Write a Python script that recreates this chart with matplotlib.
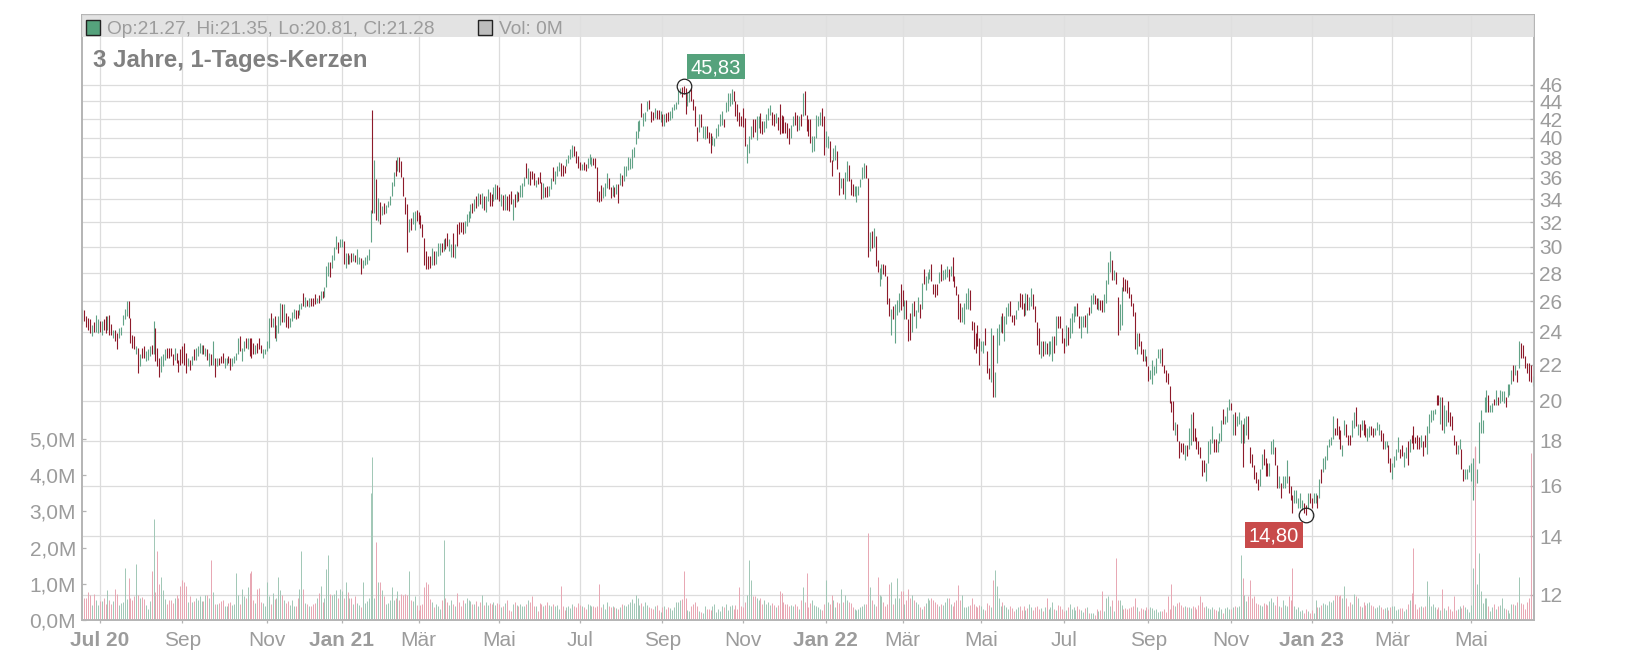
import matplotlib
matplotlib.use("Agg")
import matplotlib.pyplot as plt
from matplotlib.patches import Rectangle
from matplotlib.ticker import FixedLocator, NullLocator
import numpy as np

plt.rcParams["font.family"] = ["Liberation Sans", "DejaVu Sans"]

# daily highs
highs = [
    25.5,25.4,25.0,24.9,24.8,24.4,24.6,25.1,24.8,24.7,24.7,24.8,25.0,25.0,25.1,24.5,24.1,24.1,23.9,24.2,24.3,
    25.1,25.5,26.0,26.0,24.9,23.8,23.7,23.1,23.0,22.6,23.0,23.1,22.8,22.9,23.1,23.2,24.7,24.2,23.0,22.4,22.5,
    22.6,22.9,23.0,23.0,23.0,22.6,23.0,22.7,22.3,22.9,23.1,23.3,22.7,22.4,22.3,22.5,22.9,23.0,23.1,23.3,23.2,
    23.2,23.0,22.9,22.7,22.6,23.4,22.4,22.4,22.4,22.5,22.7,22.4,22.4,22.5,22.4,22.4,22.5,22.7,23.6,23.7,23.0,
    23.4,23.6,23.6,23.6,23.6,23.3,23.2,23.3,23.6,23.2,22.9,22.9,23.4,24.9,25.2,24.9,25.0,24.4,25.0,25.9,25.8,
    25.8,25.2,25.0,24.9,25.3,25.5,25.4,25.4,25.8,25.9,26.6,26.3,26.1,26.2,26.2,26.2,26.5,26.2,26.4,26.7,26.7,
    27.0,28.5,28.8,28.8,29.4,30.0,30.9,30.4,30.6,30.6,30.5,29.5,29.5,29.4,29.5,29.5,29.4,29.8,29.2,29.1,29.0,
    29.2,29.4,29.8,33.1,43.0,37.7,35.9,34.1,33.8,33.4,33.7,33.5,33.9,34.3,35.6,36.5,37.7,38.0,38.0,37.6,36.1,
    34.2,33.6,32.3,32.4,32.9,33.0,33.1,32.9,32.6,31.9,30.7,29.7,29.3,29.3,29.9,29.7,29.7,30.3,30.3,30.3,30.6,
    30.7,31.1,30.6,30.2,31.1,30.2,31.9,32.0,32.0,32.0,32.1,32.7,33.0,33.6,33.7,34.0,34.3,34.6,34.5,34.6,34.3,
    34.3,34.9,34.7,34.5,35.1,35.4,35.3,35.1,34.5,34.4,34.5,34.3,34.5,34.8,34.0,34.5,34.8,34.7,35.3,35.5,36.1,37.4,
    36.9,36.6,36.6,36.4,35.8,36.1,36.5,35.6,35.5,35.1,35.2,35.2,36.0,37.0,36.6,37.1,37.5,37.4,37.2,37.1,37.8,38.2,
    38.8,39.2,39.1,38.6,38.1,37.5,37.3,37.5,37.3,37.9,38.3,38.0,37.9,37.9,37.0,34.8,35.3,35.1,35.5,36.4,36.0,35.1,
    35.3,35.1,35.4,35.4,36.4,36.3,37.1,37.1,38.0,37.9,38.8,39.0,40.7,41.8,41.9,43.8,42.7,42.8,44.1,44.2,42.9,42.8,
    43.2,43.0,43.0,42.9,42.6,42.6,42.7,42.8,42.9,43.4,43.7,43.9,45.3,45.6,45.7,45.83,45.6,45.0,45.4,45.6,44.3,43.5,
    41.1,42.6,42.6,41.3,41.3,41.2,40.6,40.5,40.2,40.0,41.0,41.5,42.6,42.9,42.0,43.9,45.0,45.0,45.5,45.2,44.1,43.7,42.8,42.4,43.2,42.1,39.3,
    40.2,41.2,42.0,42.0,42.3,42.4,42.7,41.8,41.8,42.6,43.3,43.6,42.8,42.6,42.7,42.2,43.7,42.5,42.3,41.7,41.6,41.0,41.4,42.3,42.8,42.5,42.4,42.6,45.0,45.2,42.5,42.0,42.0,40.2,40.2,42.5,42.3,42.8,43.2,42.3,
    40.7,40.2,39.6,37.7,38.9,39.2,38.6,36.5,36.0,36.0,36.5,37.6,37.2,35.9,35.4,35.2,35.2,35.2,35.9,37.0,37.4,37.2,
    36.0,31.2,31.3,31.5,30.9,29.0,28.4,28.7,28.7,28.6,27.8,26.2,25.5,25.7,25.8,26.1,26.6,27.2,26.8,26.1,26.1,24.8,25.2,25.9,26.0,25.4,26.3,25.8,
    27.3,28.3,27.8,28.1,28.3,28.7,27.2,27.2,27.2,28.1,28.7,28.2,28.3,28.5,28.3,28.5,29.2,27.8,27.1,26.5,25.9,25.6,25.9,26.6,26.9,26.8,
    24.7,24.6,23.9,24.4,23.6,23.4,23.4,24.2,22.8,21.8,24.2,23.8,21.6,24.2,24.5,25.0,25.2,25.0,25.6,25.9,26.0,25.1,25.1,25.4,26.0,26.6,26.5,25.9,26.6,26.5,26.3,26.9,26.5,25.7,24.6,
    24.2,23.4,23.4,23.4,23.3,23.4,23.4,23.7,23.7,25.0,25.0,25.0,24.2,23.6,24.4,24.3,24.9,25.2,25.7,25.7,25.9,25.0,
    25.0,25.0,25.1,25.2,25.6,26.4,26.6,26.4,26.2,26.2,26.1,26.1,26.5,27.5,28.8,29.7,29.0,28.2,28.1,26.3,
    25.8,27.0,27.7,27.6,27.5,27.0,26.5,25.9,25.3,23.9,23.9,23.4,22.9,22.9,22.5,21.9,21.7,22.3,21.9,22.4,
    22.9,22.9,23.0,22.0,21.7,21.5,20.8,20.0,20.0,18.9,18.8,18.0,17.9,17.9,17.8,17.8,18.6,19.3,19.4,18.6,
    18.2,18.0,17.7,17.1,17.1,17.0,18.0,18.1,18.7,18.1,18.1,18.0,18.4,19.0,19.6,19.2,19.7,20.1,19.9,19.3,19.4,
    19.2,19.4,19.0,18.8,19.1,19.2,19.2,17.7,17.4,16.9,16.6,16.3,16.7,17.4,17.6,17.2,17.0,17.0,18.0,18.1,17.7,16.9,16.4,16.1,
    16.4,16.4,17.1,16.4,16.0,15.6,15.8,15.8,15.5,15.7,15.4,15.3,15.2,15.7,15.7,15.5,15.7,15.7,15.6,16.3,
    16.7,17.2,17.3,17.8,18.1,18.2,19.2,18.6,19.1,18.7,18.5,17.8,19.0,18.8,18.3,18.3,19.0,19.4,19.7,18.8,
    18.8,19.0,19.0,18.8,18.6,18.7,18.7,18.6,18.6,18.9,18.8,18.5,18.4,18.0,18.0,17.8,17.2,17.0,17.3,17.6,
    18.2,17.6,17.8,17.5,17.7,18.0,18.1,18.3,18.7,18.2,18.3,18.2,18.3,18.0,18.3,18.7,19.3,19.5,19.5,19.6,
    20.3,20.3,20.2,20.2,19.8,19.5,20.0,19.4,19.2,18.3,18.0,17.8,18.1,17.6,16.7,16.7,16.7,16.9,17.0,17.2,
    17.7,16.7,18.9,19.5,19.0,20.2,20.6,20.3,19.8,19.9,20.1,20.6,20.2,20.6,20.5,20.5,20.2,20.9,20.9,21.7,22.0,22.0,21.7,23.4,23.3,23.2,22.5,22.1,22.1,22.0,21.35,
]

# daily lows, same order
lows = [
    24.5,24.7,24.3,24.1,23.9,23.7,24.0,24.0,23.9,24.0,23.8,24.1,23.9,24.1,23.8,23.8,23.6,23.4,22.9,23.6,23.8,
    24.4,24.8,25.0,24.9,23.3,23.0,22.9,22.6,21.5,21.9,22.4,22.4,22.2,22.3,22.5,22.6,22.6,22.2,21.9,21.3,21.6,
    21.9,22.3,22.4,22.4,22.5,22.0,22.3,22.1,21.6,22.0,22.1,22.0,21.5,21.9,21.7,22.0,22.3,22.3,22.5,22.7,22.6,
    22.6,22.5,22.3,21.9,22.0,22.0,21.3,21.9,22.0,22.1,22.1,21.8,22.0,22.1,21.7,21.9,22.1,22.3,22.6,22.8,22.2,
    22.8,23.0,22.9,22.5,22.4,22.6,22.6,22.7,22.9,22.7,22.4,22.6,22.8,23.0,24.3,24.3,23.6,23.4,23.9,24.4,24.6,
    24.6,24.3,24.2,24.3,24.7,24.9,24.8,24.9,25.1,25.5,25.7,25.6,25.7,25.6,25.7,25.7,25.8,25.9,25.9,26.1,26.2,
    26.3,27.0,27.8,27.7,28.4,29.0,29.8,29.5,30.0,30.0,28.7,28.4,28.7,28.7,28.8,28.9,28.8,28.7,28.7,27.9,28.4,
    28.6,28.7,29.0,30.4,32.8,32.8,32.2,32.1,31.9,32.6,32.7,32.8,33.3,33.5,34.3,35.2,36.2,36.6,36.5,36.1,34.3,
    32.7,29.6,31.2,31.4,31.9,31.4,32.1,31.9,31.5,30.8,28.6,28.3,28.3,28.4,28.6,28.6,28.7,29.3,29.4,29.6,29.7,
    29.8,30.1,29.7,29.2,29.2,29.1,30.1,31.0,31.2,31.0,31.1,31.7,32.0,32.4,32.8,33.0,33.2,33.4,33.6,33.2,33.1,
    32.9,33.9,33.4,33.4,33.9,34.0,34.0,33.9,33.4,33.1,33.1,33.1,33.0,33.6,32.2,33.3,33.8,33.9,34.2,34.2,35.2,36.0,
    35.4,35.3,35.9,35.3,35.1,35.4,35.5,34.0,34.1,34.2,34.2,34.3,34.9,35.7,35.4,36.2,36.6,36.2,36.2,36.4,37.1,37.4,
    37.8,38.0,38.1,37.4,36.9,36.7,36.7,36.7,36.6,36.9,37.3,37.1,37.2,36.9,33.9,33.8,33.9,34.1,34.3,35.0,34.9,34.1,
    34.3,34.2,34.5,33.7,35.3,35.2,35.7,36.2,36.7,36.8,36.9,38.0,39.3,40.0,40.7,42.2,41.2,41.8,42.9,43.1,41.7,41.9,
    42.1,42.0,42.0,41.7,41.3,41.3,41.7,41.8,41.9,42.1,43.0,43.1,43.7,44.9,44.5,44.9,42.6,43.5,43.9,44.1,43.0,41.2,
    39.6,40.6,41.1,40.0,39.9,40.0,39.4,38.4,39.2,39.1,40.0,40.2,41.3,41.4,41.1,42.8,42.9,43.5,43.7,44.1,42.4,41.8,41.3,41.3,41.1,39.1,37.4,
    38.4,39.9,40.1,40.6,39.8,41.0,40.5,40.4,40.6,41.0,41.9,42.5,41.4,41.2,41.6,40.8,40.4,40.5,40.5,40.5,40.0,39.3,40.0,41.2,41.4,40.7,40.8,41.2,42.3,42.5,40.7,40.2,39.4,38.5,38.6,40.0,41.2,41.4,41.2,38.2,
    39.0,38.9,37.5,36.2,37.6,37.7,36.8,34.4,35.0,34.5,34.0,35.7,35.7,34.4,34.3,34.3,33.8,34.4,35.1,35.9,36.0,36.0,
    29.2,29.7,29.9,30.0,28.5,28.1,27.1,27.6,27.9,27.8,25.8,25.0,23.8,24.8,23.3,25.1,25.3,25.4,25.7,24.8,24.8,23.4,23.5,24.0,25.0,24.2,25.3,24.9,
    25.5,27.2,26.8,27.3,27.6,27.4,26.5,26.3,26.4,27.3,27.4,27.5,27.6,27.7,27.4,27.8,27.4,27.0,26.4,24.8,24.6,24.6,24.5,25.5,25.5,25.4,
    24.1,22.9,22.7,23.1,22.0,22.8,22.7,23.2,21.5,21.2,21.0,20.2,20.2,22.1,23.2,24.0,23.9,23.4,24.5,25.0,25.0,24.6,24.4,24.8,25.4,25.6,25.5,25.0,25.1,25.4,25.4,25.7,25.5,24.6,23.2,
    22.6,22.4,22.5,22.6,22.6,22.5,22.6,22.2,22.7,23.2,24.2,24.2,23.3,22.7,23.1,23.2,23.6,23.9,24.6,25.0,25.0,24.2,
    23.6,24.3,24.3,23.9,25.1,25.2,25.8,25.8,25.5,25.4,25.4,25.3,25.3,25.9,27.2,28.1,27.5,27.5,27.2,23.8,
    24.1,24.4,26.7,26.7,26.6,26.2,25.7,25.0,22.9,22.6,23.1,22.6,22.2,22.2,21.9,21.1,21.2,20.9,21.4,21.5,
    22.4,22.1,21.9,21.5,21.0,20.9,19.9,19.4,18.5,18.3,18.0,17.2,17.5,17.4,17.1,17.3,17.6,17.8,18.0,18.0,
    17.6,17.4,17.2,16.4,16.6,16.2,17.0,17.4,17.9,17.5,17.5,17.5,17.9,18.0,18.8,18.8,18.9,19.5,19.5,18.3,18.3,
    18.7,18.8,17.9,16.8,17.9,18.3,18.1,17.0,16.8,16.3,16.1,15.8,16.0,16.7,16.9,16.4,16.4,16.4,17.4,17.4,16.9,15.9,15.9,15.5,
    15.9,15.9,16.1,15.7,15.4,14.9,15.3,15.3,15.1,15.1,15.0,14.9,14.8,15.1,15.3,15.1,15.3,15.3,15.1,15.5,
    16.1,16.6,16.7,17.1,17.7,17.8,18.1,18.3,18.3,18.1,17.6,17.3,18.3,18.2,17.8,17.8,18.2,18.6,18.7,18.3,
    18.2,18.5,18.3,18.2,18.0,18.2,18.3,18.2,18.3,18.5,18.3,18.0,17.6,17.6,17.7,17.0,16.6,16.3,16.8,17.1,
    17.5,17.2,17.3,16.8,17.2,16.9,17.5,17.9,17.6,17.9,17.6,17.6,17.7,17.3,17.7,17.4,18.4,18.9,19.0,19.3,
    19.8,19.8,18.8,18.5,18.4,18.7,18.9,18.7,18.5,17.8,17.4,17.4,17.6,16.7,16.2,16.3,16.3,16.6,16.2,15.4,
    16.0,16.1,17.0,18.4,18.4,19.4,19.4,19.4,19.4,19.4,19.8,19.8,19.8,19.9,20.0,19.9,19.7,20.2,20.3,20.9,21.1,21.4,21.0,21.8,22.4,22.4,21.8,21.5,21.1,21.0,20.81,
]

# g = closed up, r = closed down
dirs = """
g r r r r g r g g r g r r g r r g r r g g
g g g r r r r g r g r r g g g r g r r r g
g g r r r r g r r r r r r g r g r g g g g
r g r g r g r g r r r g g r r g g g g r g
g r g r r r g r r r g g g g r g r g g g r
g r r g g g r r g g r g r g r r r g r g r
g g g r g g g r g g r g r g r g r g g r g
g g g g r g r g r g r g g g g g r g r r r
r r g r g g r r r r r r r r g r g g g r g
r r g g r g r r r r g g g g r g r g r g r
g g r r g g r r g r g r r r g r g r g g g r
g r r r g r r r g r r g g r g g g r r r g g
g g r r r r g r r g g g r r r r r g g g r r
g r g r g r g g g g g g g g g r g g g r r r
g r r g r g r r g g g g g g r r r g g r r r
r g r g g r r r g g g g g g r g g g g r r r r r r r g
g g r r g g r r g g g g r r g r r r r r r r g g r r g r g r r r r g g g g g r r
g g r r g g r r g r g g r r r g g g g g g r
r g r g r r g g r r r r g r g g g r r g r r r g r g g r
g r g g g r r r r g r g g g r g r r r r r g g g g r
r r r r r g g r r r g r g g g g r g g g r r r g g r r r g r g g r r r
r g r g r g g g r g r r r r g r g g g g r r
g g r g r g g r r g r r g g g g r g r r
g g r r r r r r r g r r r g r r g g g g
g g r r r r r r r g r r r r g r g g r r
r r r r r g g g g r r g g g r g g g r g r
g g g r g g r r r r r r g g r r r g g g r r g r
g g g r r r g g g g g r r g r r g g r g
r g g g g g g r r r r g g r r r g g r g
r g r r g g r r g g g r r g g r r g g g
g r r g g r g r r r r r g r r g g g g g
r r g r g g r r r r r g g r r g g g g g
r g g g g g g r g g r g r g g g r g g g r g r g r r r r r r g
""".split()

# daily volume in units of 10k shares
vols_10k = [
    90,60,62,78,68,42,72,55,42,52,52,62,45,82,55,45,52,85,72,42,48,
    50,145,58,115,62,55,66,155,70,62,64,58,42,30,52,135,280,78,190,100,118,
    82,58,45,55,55,48,60,70,60,95,110,105,95,50,65,50,52,60,55,66,52,
    52,70,70,60,165,78,45,45,48,52,55,40,38,48,50,42,45,130,70,45,85,
    65,62,92,130,135,55,48,85,88,50,48,40,105,65,45,75,58,60,120,82,68,
    55,48,52,42,56,40,38,60,85,190,85,48,45,40,38,45,48,60,75,95,50,
    62,140,180,72,68,72,82,60,85,80,60,105,78,60,62,45,65,48,42,35,105,
    48,52,62,350,450,60,215,105,105,82,65,45,48,55,90,55,60,80,55,72,70,
    72,70,135,55,52,65,42,28,42,45,90,105,100,58,50,35,45,40,30,55,220,
    60,50,42,55,45,40,75,50,38,55,48,60,55,52,45,45,52,40,50,70,42,
    50,42,48,45,50,42,48,45,35,40,48,55,28,25,45,50,42,40,45,38,38,
    45,55,50,65,40,38,25,48,45,40,42,50,42,38,45,40,42,30,95,38,28,
    35,40,32,45,40,35,48,42,40,35,30,45,42,40,38,35,40,100,35,45,30,
    50,38,35,40,35,32,30,35,45,42,40,45,50,58,48,70,60,42,48,40,50,
    42,35,32,30,38,42,28,22,35,40,30,35,32,28,35,50,50,55,58,135,60,
    28,25,38,45,50,40,25,22,20,40,30,30,28,38,45,22,30,25,40,35,45,
    28,40,42,30,42,30,90,40,35,50,70,165,110,65,65,62,55,60,45,55,45,
    50,42,48,42,35,42,80,75,50,45,45,40,42,38,45,40,30,55,90,50,130,
    35,48,55,42,38,35,30,28,45,110,50,45,70,55,35,50,48,85,50,70,55,
    50,48,35,30,28,30,35,40,45,45,240,90,55,45,40,120,70,65,50,40,45,
    100,105,45,60,115,60,80,80,45,55,85,60,70,55,50,45,35,30,40,48,60,
    55,62,55,50,45,38,45,42,50,62,60,45,40,50,55,97,55,70,35,35,38,
    42,60,45,40,35,42,38,30,28,48,42,35,110,137,95,60,40,50,42,35,30,
    38,32,25,30,35,38,28,40,28,32,45,35,28,35,40,30,32,25,35,60,30,
    35,50,30,28,42,38,30,25,28,35,45,30,35,28,38,30,28,22,32,35,20,
    20,18,15,30,25,28,80,25,60,65,40,55,25,170,55,55,42,30,32,30,32,
    35,38,60,35,25,32,30,28,35,30,35,32,28,30,22,25,25,30,22,65,30,
    100,42,40,48,50,42,35,38,35,35,32,38,35,30,42,65,50,35,38,32,30,
    35,30,28,25,35,30,20,32,35,30,30,35,38,35,38,180,115,70,52,65,110,
    62,65,48,45,42,40,48,45,42,52,60,50,42,65,40,35,55,42,40,65,55,
    145,38,30,35,25,28,20,30,25,20,28,18,55,35,35,42,48,45,42,52,50,
    55,70,68,65,70,60,93,60,40,50,45,72,65,62,40,35,50,42,48,50,42,
    38,32,35,42,35,30,32,35,28,35,40,38,28,30,32,32,25,30,45,55,75,
    200,45,30,35,40,35,38,107,65,40,45,35,30,35,28,85,32,28,40,30,25,
    65,28,30,38,32,42,35,30,22,42,145,480,100,185,80,48,60,60,40,25,35,
    45,30,40,42,60,32,30,28,20,45,45,42,50,118,48,45,30,50,60,460,0,
]
# the volume bar under the big spike is coloured against its candle
vol_flip = [151]

price_ticks = [12, 14, 16, 18, 20, 22, 24, 26, 28, 30, 32, 34, 36, 38, 40, 42, 44, 46]
vol_ticks = [0, 1, 2, 3, 4, 5]
vol_labels = ["0,0M", "1,0M", "2,0M", "3,0M", "4,0M", "5,0M"]
month_pos = [9, 52, 96, 135, 175, 217, 259, 302, 344, 387, 427, 468, 511, 555, 598, 640, 682, 723]
month_labels = ["Jul 20", "Sep", "Nov", "Jan 21", "Mär", "Mai", "Jul", "Sep", "Nov", "Jan 22",
                "Mär", "Mai", "Jul", "Sep", "Nov", "Jan 23", "Mär", "Mai"]
high_idx, high_val = 313, 45.83
low_idx, low_val = 637, 14.80

W, H = 1641, 656
GREEN = "#62a387"
RED = "#8e1b2b"
VOL_GREEN = "#a0c7b5"
VOL_RED = "#e8a6b2"
TEXT = "#9c9c9c"
GRID = "#dcdcdc"
FRAME = "#b4b4b4"


def fx(x):
    return x / W


def fy(y):
    return 1 - y / H


n = len(highs)
idx = np.arange(n)
up = np.array([d == "g" for d in dirs])

fig = plt.figure(figsize=(W / 100, H / 100), dpi=100, facecolor="white")
left, right, top, bottom = 81.5, 1533.7, 14.7, 620.0
ax = fig.add_axes([fx(left), fy(bottom), fx(right - left), fy(top) - fy(bottom)])

ax.set_xlim(-0.5, 755.6)
ax.set_yscale("log")
ax.set_ylim(11.23, 55.3)
ax.set_axisbelow(True)

ax.vlines(idx[up], np.array(lows)[up], np.array(highs)[up], color=GREEN, lw=0.8, zorder=3)
ax.vlines(idx[~up], np.array(lows)[~up], np.array(highs)[~up], color=RED, lw=0.8, zorder=3)

# volume panel shares the frame, scale kept on the left
vax = ax.twinx()
vax.patch.set_alpha(0)
vax.set_ylim(0, 16.72)
vol_m = np.array(vols_10k) / 100.0
vol_up = up.copy()
vol_up[vol_flip] = ~vol_up[vol_flip]
vax.vlines(idx[vol_up], 0, vol_m[vol_up], color=VOL_GREEN, lw=0.7)
vax.vlines(idx[~vol_up], 0, vol_m[~vol_up], color=VOL_RED, lw=0.7)
vax.yaxis.tick_left()
vax.set_yticks(vol_ticks)
vax.set_yticklabels(vol_labels)
vax.tick_params(axis="y", direction="in", length=3, width=0.9, color=FRAME,
                labelcolor=TEXT, labelsize=15, pad=4)

# twinx moved the price ticks, put them back on the right
ax.yaxis.tick_right()
ax.yaxis.set_major_locator(FixedLocator(price_ticks))
ax.yaxis.set_minor_locator(NullLocator())
ax.set_yticklabels([str(t) for t in price_ticks])
ax.set_xticks(month_pos)
ax.set_xticklabels(month_labels)
for lab, txt in zip(ax.get_xticklabels(), month_labels):
    if txt.startswith("Jan") or txt == "Jul 20":
        lab.set_fontweight("bold")
ax.grid(True, color=GRID, lw=0.9)
ax.tick_params(axis="y", which="major", direction="in", length=3, width=0.9, color=FRAME,
               labelcolor=TEXT, labelsize=15, pad=4)
ax.tick_params(axis="x", which="major", direction="out", length=2, width=0.9, color=FRAME,
               labelcolor=TEXT, labelsize=15, pad=6)

for a in (ax, vax):
    for s in a.spines.values():
        s.set_color(FRAME)
        s.set_linewidth(1.2)

# high and low markers
ax.plot([high_idx], [high_val], "o", ms=10.5, mfc="none", mec="#222222", mew=0.9, zorder=5)
ax.plot([low_idx], [low_val], "o", ms=10.5, mfc="none", mec="#222222", mew=0.9, zorder=5)


def tag(x0, y0, x1, y1, color, txt):
    fig.add_artist(Rectangle((fx(x0), fy(y1)), fx(x1 - x0), fy(y0) - fy(y1),
                             transform=fig.transFigure, fc=color, ec="none"))
    fig.text(fx((x0 + x1) / 2), fy((y0 + y1) / 2 + 1), txt, color="white", fontsize=14.5,
             ha="center", va="center")


tag(687, 54.3, 745, 79.3, "#55a27c", "45,83")
tag(1245, 522, 1303, 548, "#c84b4b", "14,80")

# header band with the legend
fig.add_artist(Rectangle((fx(left), fy(37)), fx(right - left), fy(top) - fy(37),
                         transform=fig.transFigure, fc="#e0e0e0", ec="none", alpha=0.9))
fig.add_artist(Rectangle((fx(86), fy(34.5)), fx(13.5), fy(20.5) - fy(34.5),
                         transform=fig.transFigure, fc="#55a27c", ec="#222222", lw=1.0))
fig.add_artist(Rectangle((fx(478.5), fy(34.5)), fx(13.5), fy(20.5) - fy(34.5),
                         transform=fig.transFigure, fc="#bdbdbd", ec="#222222", lw=1.0))
fig.text(fx(107), fy(34.3), "Op:21.27, Hi:21.35, Lo:20.81, Cl:21.28", color=TEXT, fontsize=13.8, va="baseline")
fig.text(fx(499), fy(34.3), "Vol: 0M", color=TEXT, fontsize=13.8, va="baseline")
fig.text(fx(93), fy(66.5), "3 Jahre, 1-Tages-Kerzen", color="#808080", fontsize=17.3,
         fontweight="bold", va="baseline")

fig.savefig("out.png", dpi=100)
